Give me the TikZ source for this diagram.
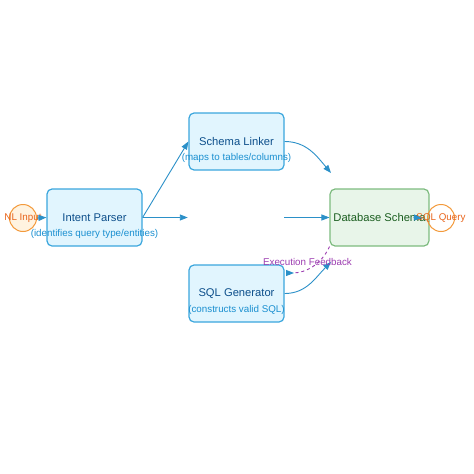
\documentclass[tikz,border=0pt]{standalone}
\usepackage{fontspec}
\setsansfont{Liberation Sans}
\usetikzlibrary{arrows.meta,calc}
\definecolor{boxfill}{HTML}{E1F5FE}
\definecolor{boxline}{HTML}{3AA6DD}
\definecolor{titleblue}{HTML}{0D4F8B}
\definecolor{subblue}{HTML}{1A8FD0}
\definecolor{dbfill}{HTML}{E8F5E9}
\definecolor{dbline}{HTML}{7DBB7F}
\definecolor{dbtext}{HTML}{1B5E20}
\definecolor{iofill}{HTML}{FFF3E0}
\definecolor{ioline}{HTML}{F39A3C}
\definecolor{iotext}{HTML}{E8641B}
\definecolor{edge}{HTML}{2B90C8}
\definecolor{feed}{HTML}{9C3CB0}

\begin{document}
\begin{tikzpicture}[x=1pt,y=-1pt,font=\sffamily,
    stage/.style={draw=boxline,fill=boxfill,line width=1.2pt,rounded corners=5pt,
      minimum width=95pt,minimum height=57pt,text=titleblue,font=\sffamily\fontsize{11.2}{13}\selectfont},
    sub/.style={text=subblue,font=\sffamily\fontsize{9.8}{11}\selectfont,inner sep=0pt},
    io/.style={circle,draw=ioline,fill=iofill,line width=1pt,minimum size=27pt,inner sep=0pt},
    iolabel/.style={text=iotext,font=\sffamily\fontsize{9.8}{11}\selectfont,inner sep=0pt},
    flow/.style={edge,line width=0.9pt,-{Triangle[length=8pt,width=6pt]}}]
  \useasboundingbox (0,0) rectangle (474,474);

  \node[io] (nl) at (23,218) {};
  \node[iolabel] (nllabel) at (nl) {NL Input};

  \node[stage] (intent) at (94.5,217.5) {Intent Parser};
  \node[sub] (intentsub) at ($(intent)+(0,16.5)$) {(identifies query type/entities)};

  \node[stage] (linker) at (236.5,141.5) {Schema Linker};
  \node[sub] (linkersub) at ($(linker)+(0,16.5)$) {(maps to tables/columns)};

  \node[minimum width=95pt,minimum height=57pt] (hub) at (236.5,217.5) {};

  \node[stage] (gen) at (236.5,293.5) {SQL Generator};
  \node[sub] (gensub) at ($(gen)+(0,16.5)$) {(constructs valid SQL)};

  \node[stage,draw=dbline,fill=dbfill,text=dbtext] (db) at (379.5,217.5) {Database Schema};

  \node[io,fill=none] (query) at (441,218) {};
  \node[iolabel] (querylabel) at (query) {SQL Query};

  \coordinate (linkin) at (331,173);
  \coordinate (genin) at (331,262);
  \coordinate (fbin) at (286,273);

  \draw[flow] (nl.east) -- (intent.west);
  \draw[flow] (intent.east) -- (linker.west);
  \draw[flow] (intent.east) -- ($(hub.west)+(-1,0)$);
  \draw[flow] (hub.east) -- (db.west);
  \draw[flow] (linker.east) to[out=0,in=130] (linkin);
  \draw[flow] (gen.east) to[out=0,in=225] (genin);
  \draw[flow] ($(db.east)+(-16,0)$) -- ($(query.west)+(-5,0)$);
  \draw[feed,line width=0.9pt,dashed,-{Triangle[reversed,length=8pt,width=6pt,color=edge]}]
    (db.south west) to[out=245,in=0] (fbin);
  \node[text=feed,font=\sffamily\fontsize{9.8}{11}\selectfont,inner sep=0pt] (fblabel)
    at (307.5,262) {Execution Feedback};
\end{tikzpicture}
\end{document}
